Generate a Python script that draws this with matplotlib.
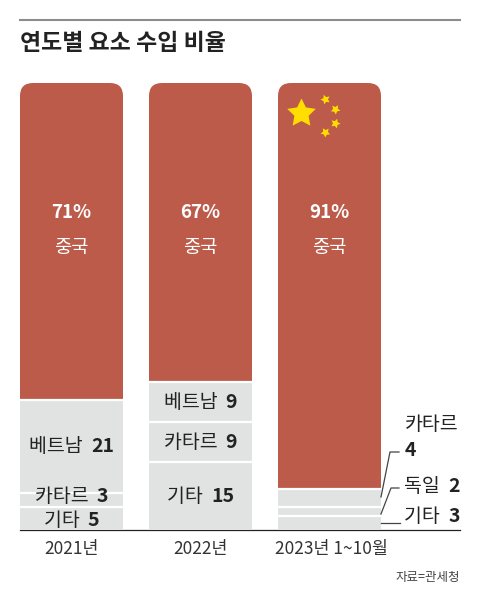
import matplotlib
matplotlib.use("Agg")
import matplotlib.pyplot as plt
from matplotlib.patches import FancyBboxPatch
from matplotlib.transforms import IdentityTransform

plt.rcParams['font.family'] = ['Liberation Sans Narrow', 'Noto Sans CJK KR', 'DejaVu Sans']

W, H = 480, 600
RED = "#BC5B4A"
GRAY = "#E1E3E2"
INK = "#222222"

years = ["2021년", "2022년", "2023년 1~10월"]
china = [71, 67, 91]
china_labels = ["71%", "67%", "91%"]
# segments from the baseline up, per year
others = [
    [("기타", 5), ("카타르", 3), ("베트남", 21)],
    [("기타", 15), ("카타르", 9), ("베트남", 9)],
    [("기타", 3), ("독일", 2), ("카타르", 4)],
]

fig = plt.figure(figsize=(W/100, H/100), dpi=100)
# y axis: 0-100 between baseline (529px) and bar top (83px)
ax = fig.add_axes([0, (H-529)/H, 1, (529-83)/H])
ax.set_xlim(-71.5/129, (W-71.5)/129)
ax.set_ylim(0, 100)
ax.axis("off")
bar_w = 103/129

def px(x, y):
    # image pixel to figure fraction
    return x/W, 1 - y/H

def put(x, y, s, size=13, weight="normal", color=INK, ha="center"):
    fx, fy = px(x, y)
    return fig.text(fx, fy, s, fontsize=size, fontweight=weight, color=color,
                    ha=ha, va="center")

def mixed(x, y, word, num, size=14):
    # regular word followed by a bold number, centred on x
    r = fig.canvas.get_renderer()
    a = put(0, y, word + " ", size=size, ha="left")
    b = put(0, y, str(num), size=size, weight="bold", ha="left")
    wa = a.get_window_extent(r).width + 4
    wb = b.get_window_extent(r).width
    a.set_x((x - (wa+wb)/2)/W)
    b.set_x((x - (wa+wb)/2 + wa)/W)

for i in range(3):
    bottom = 0
    rects = []
    for name, v in others[i]:
        rects += ax.bar(i, v, bar_w, bottom=bottom, color=GRAY, linewidth=0)
        bottom += v
    rects += ax.bar(i, china[i], bar_w, bottom=bottom, color=RED, linewidth=0)

    # round only the top corners
    x0 = 20 + 129*i
    clip = FancyBboxPatch((x0, H-529-40), 103, 529+40-83,
                          boxstyle="round,pad=0,rounding_size=13",
                          transform=IdentityTransform())
    for r in rects:
        r.set_clip_path(clip)

    # white gaps between segments
    level = 0
    for name, v in others[i]:
        level += v
        ax.plot([i-bar_w/2, i+bar_w/2], [level, level], color="white", lw=1.6,
                solid_capstyle="butt")
    if i < 2:
        pass

    cx = x0 + 51.5
    put(cx, 213, china_labels[i], size=13.5, weight="bold", color="white")
    put(cx, 247, "중국", size=13.5, color="white")
    put(71.5 if i == 0 else (200.5 if i == 1 else 331), 549, years[i], size=12.5, color="#333333")

# labels inside the gray segments
mixed(71.5, 447, "베트남", 21)
mixed(71.5, 497, "카타르", 3)
mixed(71.5, 520, "기타", 5)
mixed(200.5, 402, "베트남", 9)
mixed(200.5, 443, "카타르", 9)
mixed(200.5, 497, "기타", 15)

# labels outside the 2023 bar with their leaders
put(405, 424, "카타르", size=14, ha="left")
put(405, 450, "4", size=14, weight="bold", ha="left")
mixed(432, 487, "독일", 2)
mixed(432, 516, "기타", 3)

leaders_x = [[381, 390, 399], [381, 391, 399], [381, 400]]
leaders_y = [[497, 452, 452], [514, 488, 488], [523, 523]]
for lx, ly in zip(leaders_x, leaders_y):
    fig.add_artist(plt.Line2D([v/W for v in lx], [1-v/H for v in ly],
                              color="#444444", lw=0.9))

# flag on the 2023 bar
star_x = [301, 325, 335, 335, 325]
star_y = [113, 99, 109, 123, 132]
star_r = [15, 5, 5, 5, 5]
star_a = [0, 20, 40, -20, -40]
for sx, sy, sr, sa in zip(star_x, star_y, star_r, star_a):
    fig.add_artist(plt.Line2D([sx/W], [1-sy/H], marker=(5, 1, sa), color="#FFDE00",
                              markersize=sr*2*0.72, markeredgewidth=0, linestyle="none"))

# title, rules, source
fig.add_artist(plt.Line2D([20/W, 460/W], [1-20/H, 1-20/H], color="#8C8C8C", lw=1.5))
fig.add_artist(plt.Line2D([20/W, 460/W], [1-529.5/H, 1-529.5/H], color="#222222", lw=0.9))
put(20, 43, "연도별 요소 수입 비율", size=16.5, weight="bold", ha="left")
put(460, 577, "자료=관세청", size=9, color="#444444", ha="right")

fig.savefig("out.png", dpi=100)
